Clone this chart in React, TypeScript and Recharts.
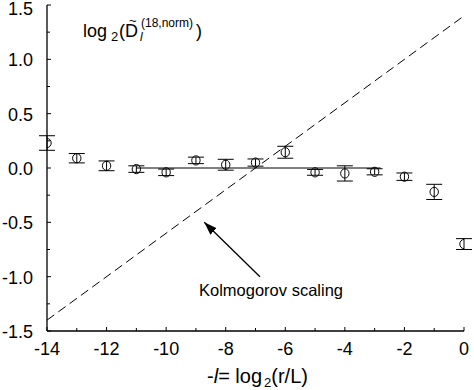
import React from "react";
import { ComposedChart, Scatter, ErrorBar, XAxis, YAxis } from "recharts";

const xValues = [-14, -13, -12, -11, -10, -9, -8, -7, -6, -5, -4, -3, -2, -1, 0];
const yValues = [0.23, 0.09, 0.02, -0.01, -0.04, 0.07, 0.03, 0.05, 0.145, -0.04, -0.05, -0.035, -0.08, -0.22, -0.7];
const errValues = [0.067, 0.043, 0.045, 0.03, 0.03, 0.03, 0.05, 0.033, 0.055, 0.027, 0.07, 0.028, 0.034, 0.07, 0.05];

const kolmogorovX = [-14, 0];
const kolmogorovY = [-1.4, 1.4];
const flatX = [-11, -2.8];
const flatY = [0, 0];
const arrowX = [-6.85, -8.72];
const arrowY = [-1.0, -0.5];

const xTicks = [-14, -13, -12, -11, -10, -9, -8, -7, -6, -5, -4, -3, -2, -1, 0];
const yTicks = [-1.5, -1.25, -1.0, -0.75, -0.5, -0.25, 0, 0.25, 0.5, 0.75, 1.0, 1.25, 1.5];

const points = xValues.map((x, i) => ({ x, y: yValues[i], err: errValues[i] }));
const kolmo = kolmogorovX.map((x, i) => ({ x, y: kolmogorovY[i] }));
const flat = flatX.map((x, i) => ({ x, y: flatY[i] }));
const arrow = arrowX.map((x, i) => ({ x, y: arrowY[i] }));

const FONT = "'Liberation Sans', Arial, Helvetica, sans-serif";

const isMajorX = (v: number) => Math.abs(v % 2) < 1e-9;
const isMajorY = (v: number) => Math.abs(v * 2 - Math.round(v * 2)) < 1e-9;

const BottomTick = (props: any) => {
  const { x, y, payload } = props;
  const v = payload.value;
  const major = isMajorX(v);
  return (
    <g>
      <line x1={x} x2={x} y1={y} y2={y - (major ? 4 : 3)} stroke="#000" strokeWidth={1} />
      {major && (
        <text x={x} y={y + 24} textAnchor="middle" fontSize={18} fontFamily={FONT} fill="#000">
          {String(v)}
        </text>
      )}
    </g>
  );
};

const TopTick = (props: any) => {
  const { x, y, payload } = props;
  const major = isMajorX(payload.value);
  return <line x1={x} x2={x} y1={y} y2={y + (major ? 4 : 3)} stroke="#000" strokeWidth={1} />;
};

const LeftTick = (props: any) => {
  const { x, y, payload } = props;
  const v = payload.value;
  const major = isMajorY(v);
  return (
    <g>
      <line x1={x} x2={x + (major ? 4 : 3)} y1={y} y2={y} stroke="#000" strokeWidth={1} />
      {major && (
        <text x={x - 14} y={Math.max(y + 7, 14.5)} textAnchor="end" fontSize={18} fontFamily={FONT} fill="#000">
          {v.toFixed(1)}
        </text>
      )}
    </g>
  );
};

const RightTick = (props: any) => {
  const { x, y, payload } = props;
  const major = isMajorY(payload.value);
  return <line x1={x} x2={x - (major ? 4 : 3)} y1={y} y2={y} stroke="#000" strokeWidth={1} />;
};

const CircleShape = (props: any) => {
  const { cx, cy } = props;
  return <ellipse cx={cx} cy={cy} rx={4.2} ry={4.6} fill="none" stroke="#000" strokeWidth={1} />;
};

const NoShape = () => <g />;

export default function App() {
  return (
    <div style={{ position: "absolute", left: 0, top: 0, width: 474, height: 390, background: "#fff" }}>
      <svg width={0} height={0} style={{ position: "absolute" }}>
        <defs>
          <marker
            id="arrowHead"
            markerUnits="userSpaceOnUse"
            markerWidth={14}
            markerHeight={10}
            refX={13}
            refY={4.5}
            orient="auto"
          >
            <path d="M0,0 L13,4.5 L0,9 Z" fill="#000" />
          </marker>
        </defs>
      </svg>
      <ComposedChart width={474} height={390} margin={{ top: 5, right: 10, bottom: 0, left: 0 }}>
        <XAxis
          xAxisId="b"
          type="number"
          dataKey="x"
          domain={[-14, 0]}
          ticks={xTicks}
          interval={0}
          allowDataOverflow
          orientation="bottom"
          height={59}
          tickSize={0}
          tickMargin={0}
          tickLine={false}
          axisLine={{ stroke: "#000", strokeWidth: 1.3 }}
          tick={BottomTick}
        />
        <XAxis
          xAxisId="t"
          type="number"
          dataKey="x"
          domain={[-14, 0]}
          ticks={xTicks}
          interval={0}
          allowDataOverflow
          orientation="top"
          height={0}
          tickSize={0}
          tickMargin={0}
          tickLine={false}
          axisLine={{ stroke: "#000", strokeWidth: 1.3 }}
          tick={TopTick}
        />
        <YAxis
          yAxisId="l"
          type="number"
          domain={[-1.5, 1.5]}
          ticks={yTicks}
          interval={0}
          allowDataOverflow
          orientation="left"
          width={47}
          tickSize={0}
          tickMargin={0}
          tickLine={false}
          axisLine={{ stroke: "#000", strokeWidth: 1.3 }}
          tick={LeftTick}
        />
        <YAxis
          yAxisId="r"
          type="number"
          domain={[-1.5, 1.5]}
          ticks={yTicks}
          interval={0}
          allowDataOverflow
          orientation="right"
          width={0}
          tickSize={0}
          tickMargin={0}
          tickLine={false}
          axisLine={{ stroke: "#000", strokeWidth: 1.3 }}
          tick={RightTick}
        />
        <Scatter
          xAxisId="b"
          yAxisId="l"
          data={kolmo}
          dataKey="y"
          line={{ stroke: "#000", strokeWidth: 1, strokeDasharray: "9 5" }}
          shape={NoShape}
          isAnimationActive={false}
        />
        <Scatter
          xAxisId="b"
          yAxisId="l"
          data={flat}
          dataKey="y"
          line={{ stroke: "#000", strokeWidth: 1 }}
          shape={NoShape}
          isAnimationActive={false}
        />
        <Scatter
          xAxisId="b"
          yAxisId="l"
          data={arrow}
          dataKey="y"
          line={{ stroke: "#000", strokeWidth: 1.3, markerEnd: "url(#arrowHead)" }}
          shape={NoShape}
          isAnimationActive={false}
        />
        <Scatter
          xAxisId="b"
          yAxisId="l"
          data={points}
          dataKey="y"
          shape={CircleShape}
          isAnimationActive={false}
        >
          <ErrorBar dataKey="err" direction="y" width={8} stroke="#000" strokeWidth={1} isAnimationActive={false} />
        </Scatter>
        <text fontFamily={FONT} fill="#000">
          <tspan x={83} y={37} fontSize={18}>log</tspan>
          <tspan x={111} y={41} fontSize={13}>2</tspan>
          <tspan x={119} y={37} fontSize={18}>(D</tspan>
          <tspan x={140} y={41} fontSize={12} fontStyle="italic">l</tspan>
          <tspan x={141} y={27} fontSize={12}>(18,norm)</tspan>
          <tspan x={196} y={37} fontSize={18}>)</tspan>
          <tspan x={129} y={25} fontSize={13}>~</tspan>
        </text>
        <text x={199} y={296} fontSize={16.5} fontFamily={FONT} fill="#000">
          Kolmogorov scaling
        </text>
        <text fontFamily={FONT} fill="#000" fontSize={20}>
          <tspan x={207} y={383}>-</tspan>
          <tspan fontStyle="italic">l</tspan>
          <tspan>= log</tspan>
          <tspan fontSize={13} dx={2} dy={4}>2</tspan>
          <tspan dy={-4}>(r/L)</tspan>
        </text>
      </ComposedChart>
    </div>
  );
}
